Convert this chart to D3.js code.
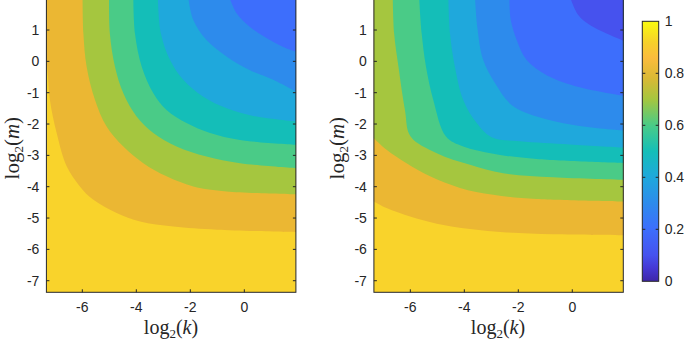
<!DOCTYPE html>
<html>
<head>
<meta charset="utf-8">
<script src="https://cdn.jsdelivr.net/npm/d3@7"></script>
<style>
  body { margin: 0; background: #fff; }
  svg { display: block; }
  text { font-family: "Liberation Sans", Arial, sans-serif; fill: #262626; }
  .lab { font-family: "Liberation Serif", "DejaVu Serif", serif; fill: #262626; }
</style>
</head>
<body>
<svg width="685" height="341"></svg>
<script>
// contour levels, highest first (value falls towards the top right)
const levels = [0.9, 0.8, 0.7, 0.6, 0.5, 0.4, 0.3, 0.2];

// tick labels
const xTicks = [-6, -4, -2, 0];
const yTicks = [1, 0, -1, -2, -3, -4, -5, -6, -7];
const cbTicks = [0, 0.2, 0.4, 0.6, 0.8, 1];

// contour lines, [log2(k), log2(m)], one per level
const leftContours = [
  [[-7.33, 0.1], [-7.27, -0.5], [-7.2, -1.23], [-6.95, -2.29], [-6.58, -3.35], [-6.09, -3.99], [-5.59, -4.42], [-4.73, -4.84], [-3.86, -5.11], [-2.63, -5.27], [-1.02, -5.37], [1.91, -5.45]],
  [[-5.99, 1.99], [-5.96, 0.89], [-5.84, -0.17], [-5.53, -1.23], [-5.1, -2.08], [-4.48, -2.72], [-3.74, -3.25], [-2.88, -3.67], [-1.89, -3.99], [-0.65, -4.15], [1.91, -4.24]],
  [[-5.01, 1.99], [-4.98, 0.89], [-4.79, -0.17], [-4.48, -1.02], [-3.99, -1.76], [-3.37, -2.29], [-2.51, -2.72], [-1.4, -3.04], [-0.16, -3.25], [1.91, -3.41]],
  [[-4.11, 1.99], [-4.05, 0.89], [-3.8, -0.17], [-3.37, -1.02], [-2.88, -1.55], [-2.14, -1.97], [-1.27, -2.29], [-0.16, -2.51], [1.91, -2.66]],
  [[-3.2, 1.99], [-3.09, 0.89], [-2.75, 0.04], [-2.26, -0.59], [-1.52, -1.13], [-0.65, -1.5], [0.33, -1.74], [1.91, -1.92]],
  [[-2.07, 1.99], [-1.89, 1.32], [-1.4, 0.68], [-0.65, 0.15], [0.21, -0.28], [1.07, -0.59], [1.91, -0.97]],
  [[-0.53, 1.99], [-0.28, 1.53], [0.21, 1.1], [0.95, 0.68], [1.57, 0.41], [1.91, 0.31]]
];

// contour lines
const rightContours = [
  [[-7.35, -4.47], [-6.88, -4.68], [-6.01, -4.95], [-5.02, -5.18], [-3.79, -5.35], [-2.43, -5.46], [-0.7, -5.52], [1.89, -5.55]],
  [[-7.35, -2.45], [-6.88, -2.82], [-6.14, -3.25], [-5.27, -3.67], [-4.16, -4.04], [-2.93, -4.26], [-1.32, -4.39], [1.89, -4.47]],
  [[-6.65, 1.99], [-6.6, 0.89], [-6.44, -0.17], [-6.2, -1.55], [-5.99, -2.4], [-5.02, -2.93], [-3.79, -3.3], [-2.56, -3.57], [-0.7, -3.7], [1.89, -3.78]],
  [[-5.67, 1.99], [-5.58, 0.89], [-5.42, -0.17], [-5.15, -1.23], [-4.68, -2.4], [-4.04, -2.72], [-2.93, -2.95], [-1.32, -3.12], [1.89, -3.25]],
  [[-4.59, 1.99], [-4.53, 0.89], [-4.35, -0.17], [-4.04, -1.23], [-3.54, -1.97], [-2.99, -2.42], [-1.94, -2.55], [-0.09, -2.65], [1.89, -2.75]],
  [[-3.6, 1.99], [-3.52, 1.1], [-3.3, 0.04], [-2.86, -0.7], [-2.25, -1.39], [-1.32, -1.76], [0.04, -2.03], [1.89, -2.21]],
  [[-2.33, 1.99], [-2.28, 1.32], [-2.06, 0.68], [-1.69, 0.04], [-0.95, -0.44], [0.28, -0.83], [1.89, -1.1]],
  [[-0.06, 1.99], [0.22, 1.48], [0.65, 1.16], [1.27, 0.89], [1.89, 0.66]]
];

// fill colour of the band just below each level
const bandColor = {
  0.9: '#f9d32b', 0.8: '#ebb733', 0.7: '#a5c63f', 0.6: '#4acb87',
  0.5: '#14beb8', 0.4: '#1fa8dc', 0.3: '#2d8bec', 0.2: '#3d6efc', 0.1: '#4652ee'
};
const parulaStops = [
  [0, '#3e26a8'], [0.05, '#4538d4'], [0.1, '#4652ee'], [0.2, '#3d6efc'], [0.3, '#2d8bec'],
  [0.4, '#1fa8dc'], [0.5, '#14beb8'], [0.6, '#4acb87'], [0.7, '#a5c63f'], [0.78, '#d9b935'],
  [0.86, '#fbbc3c'], [0.92, '#f6d12a'], [1, '#f9fb0e']
];

const svg = d3.select('svg');
const axisColor = '#262626';
const yScale = d3.scaleLinear().domain([-7.37, 1.99]).range([292.3, -1]);

// log2(x) style label built from tspans
function mathLabel(sel, v) {
  sel.append('tspan').text('log');
  sel.append('tspan').attr('font-size', 13).attr('dy', 4).text('2');
  sel.append('tspan').attr('dy', -4).text('(');
  sel.append('tspan').attr('font-style', 'italic').text(v);
  sel.append('tspan').text(')');
}

function drawPanel(id, contours, xDomain, xRange, xLabelX, yLabelX) {
  const xScale = d3.scaleLinear().domain(xDomain).range(xRange);
  const [x0, x1] = xRange;
  const [yb, yt] = yScale.range();

  svg.append('clipPath').attr('id', 'clip' + id)
    .append('rect').attr('x', x0).attr('y', yt).attr('width', x1 - x0).attr('height', yb - yt);

  const g = svg.append('g').attr('clip-path', `url(#clip${id})`);
  g.append('rect').attr('x', x0).attr('y', yt).attr('width', x1 - x0).attr('height', yb - yt)
    .attr('fill', bandColor[0.9]);

  const line = d3.line()
    .x(d => xScale(d[0])).y(d => yScale(d[1]))
    .curve(d3.curveCatmullRom.alpha(0.5));

  contours.forEach((pts, i) => {
    const lvl = levels[i];
    const below = Math.round((lvl - 0.1) * 10) / 10;
    const first = pts[0], last = pts[pts.length - 1];
    // close the region that lies above / right of the contour
    const path = line(pts) +
      `L${xScale(last[0]) + 20},${yScale(last[1])}` +
      `L${xScale(last[0]) + 20},${yt - 20}` +
      `L${xScale(first[0])},${yt - 20}` +
      `L${xScale(first[0]) - 20},${yt - 20}` +
      `L${xScale(first[0]) - 20},${yScale(first[1])}Z`;
    g.append('path').attr('d', path).attr('fill', bandColor[below]);
  });

  // box
  svg.append('rect').attr('x', x0).attr('y', yt).attr('width', x1 - x0).attr('height', yb - yt)
    .attr('fill', 'none').attr('stroke', axisColor).attr('stroke-width', 1);

  const tl = 3;
  xTicks.forEach(t => {
    const x = xScale(t);
    svg.append('line').attr('x1', x).attr('x2', x).attr('y1', yb).attr('y2', yb - tl)
      .attr('stroke', axisColor);
    svg.append('text').attr('x', x).attr('y', yb + 20).attr('text-anchor', 'middle')
      .attr('font-size', 14).text(t);
  });
  yTicks.forEach(t => {
    const y = yScale(t);
    svg.append('line').attr('x1', x0).attr('x2', x0 + tl).attr('y1', y).attr('y2', y).attr('stroke', axisColor);
    svg.append('line').attr('x1', x1).attr('x2', x1 - tl).attr('y1', y).attr('y2', y).attr('stroke', axisColor);
    svg.append('text').attr('x', x0 - 7).attr('y', y).attr('dy', '0.36em').attr('text-anchor', 'end')
      .attr('font-size', 14).text(t);
  });

  // axis labels
  const xl = svg.append('text').attr('class', 'lab').attr('x', xLabelX).attr('y', 334)
    .attr('text-anchor', 'middle').attr('font-size', 20);
  mathLabel(xl, 'k');

  const yl = svg.append('text').attr('class', 'lab')
    .attr('transform', `translate(${yLabelX},${yScale(-2.77)}) rotate(-90)`)
    .attr('text-anchor', 'middle').attr('font-size', 21);
  mathLabel(yl, 'm');
}

drawPanel('L', leftContours, [-7.33, 1.91], [46.4, 295.9], 171, 19);
drawPanel('R', rightContours, [-7.35, 1.89], [373.9, 623.3], 498, 344);

// colorbar
const cb = { x: 642.3, w: 16.4, top: 21.3, bottom: 281.3 };
const cScale = d3.scaleLinear().domain([0, 1]).range([cb.bottom, cb.top]);
const grad = svg.append('defs').append('linearGradient').attr('id', 'parula')
  .attr('x1', 0).attr('y1', 1).attr('x2', 0).attr('y2', 0);
parulaStops.forEach(s => grad.append('stop').attr('offset', s[0]).attr('stop-color', s[1]));
svg.append('rect').attr('x', cb.x).attr('y', cb.top).attr('width', cb.w).attr('height', cb.bottom - cb.top)
  .attr('fill', 'url(#parula)').attr('stroke', axisColor).attr('stroke-width', 1);
cbTicks.forEach(t => {
  const y = cScale(t);
  if (t > 0 && t < 1) {
    svg.append('line').attr('x1', cb.x + cb.w).attr('x2', cb.x + cb.w - 3).attr('y1', y).attr('y2', y)
      .attr('stroke', axisColor);
    svg.append('line').attr('x1', cb.x).attr('x2', cb.x + 3).attr('y1', y).attr('y2', y)
      .attr('stroke', axisColor);
  }
  svg.append('text').attr('x', cb.x + cb.w + 6).attr('y', y).attr('dy', '0.36em')
    .attr('font-size', 14).text(t);
});
</script>
</body>
</html>
